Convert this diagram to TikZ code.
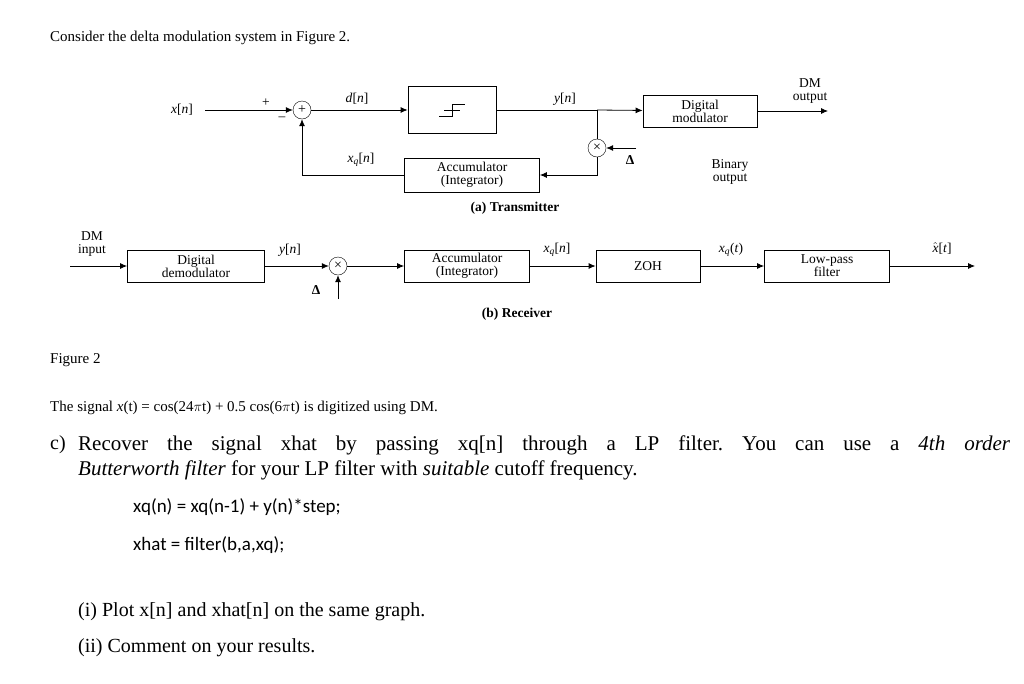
\documentclass[tikz,border=0pt]{standalone}
\usepackage{fontspec}
\setmainfont{Liberation Serif}
\newfontfamily\codefont{Carlito}
\usetikzlibrary{arrows.meta}
\begin{document}
\frenchspacing
\begin{tikzpicture}[x=1pt,y=-1pt,
  blk/.style={draw,thick,align=center,font=\fontsize{13.5}{13}\selectfont,inner sep=0pt},
  lbl/.style={font=\fontsize{13.5}{13}\selectfont,inner sep=0pt,align=center},
  cir/.style={draw,circle,minimum size=18pt,inner sep=0pt,font=\fontsize{14}{14}\selectfont},
  sig/.style={thick,-{Latex[length=7pt,width=6pt]}},
  ln/.style={thick},
  txt/.style={anchor=west,inner sep=0pt,font=\fontsize{15}{16}\selectfont}]
\useasboundingbox (0,0) rectangle (1024,683);
% header
\node[txt] at (50,38) {Consider the delta modulation system in Figure 2.};
% transmitter
\node[lbl] (x) at (182,110) {\textit{x}[\textit{n}]};
\coordinate (xs) at (205,110);
\node[cir] (sum) at (302,110) {+};
\node[lbl] at (266,103) {+};
\node[lbl] at (282,119) {–};
\node[blk,minimum width=88pt,minimum height=47pt] (q) at (452,110) {};
\draw[thick] (439,116) -- (452,116) -- (452,104) -- (465,104);
\draw[thick] (444,110) -- (460,110);
\node[lbl] at (357,99) {\textit{d}[\textit{n}]};
\node[lbl] at (565,99) {\textit{y}[\textit{n}]};
\coordinate (j) at (597,110);
\node[blk,minimum width=114pt,minimum height=32pt] (dm) at (700,111) {Digital\\modulator};
\node[lbl] at (810,91) {DM\\output};
\coordinate (dmo) at (828,111);
\node[cir] (mul) at (597,148) {×};
\coordinate (d1) at (636,148);
\node[lbl] at (630,160) {\bfseries Δ};
\node[blk,minimum width=135pt,minimum height=34pt] (acc) at (472,175) {Accumulator\\(Integrator)};
\node[lbl] at (730,172) {Binary\\output};
\node[lbl] at (361,160) {\textit{x}\textsubscript{\textit{q}}[\textit{n}]};
\node[lbl,font=\fontsize{13.5}{13}\selectfont\bfseries] at (515,208) {(a) Transmitter};
\draw[sig] (xs) -- (sum);
\draw[sig] (sum) -- (q);
\draw[ln] (q) -- (j);
\draw[sig] (j) -- (dm);
\draw[sig] (dm) -- (dmo);
\draw[ln] (j) -- (mul);
\draw[sig] (d1) -- (mul);
\draw[sig] (mul) |- (acc);
\draw[sig] (acc) -| (sum);
% receiver
\node[lbl] at (92,244) {DM\\input};
\coordinate (din) at (70,266);
\node[blk,minimum width=137pt,minimum height=32pt] (dd) at (196,266) {Digital\\demodulator};
\node[lbl] at (290,250) {\textit{y}[\textit{n}]};
\node[cir] (m2) at (338,266) {×};
\coordinate (d2) at (338,299);
\node[lbl] at (316,290) {\bfseries Δ};
\node[blk,minimum width=125pt,minimum height=32pt] (acc2) at (467,266) {Accumulator\\(Integrator)};
\node[lbl] at (557,250) {\textit{x}\textsubscript{\textit{q}}[\textit{n}]};
\node[blk,minimum width=104pt,minimum height=32pt] (zoh) at (648,266) {ZOH};
\node[lbl] at (731,250) {\textit{x}\textsubscript{\textit{q}}(\textit{t})};
\node[blk,minimum width=125pt,minimum height=32pt] (lpf) at (827,266) {Low-pass\\filter};
\node[lbl] at (942,248) {$\hat{\mbox{\textit{x}}}$[\textit{t}]};
\coordinate (out) at (975,266);
\draw[sig] (din) -- (dd);
\draw[sig] (dd) -- (m2);
\draw[sig] (d2) -- (m2);
\draw[sig] (m2) -- (acc2);
\draw[sig] (acc2) -- (zoh);
\draw[sig] (zoh) -- (lpf);
\draw[sig] (lpf) -- (out);
\node[lbl,font=\fontsize{13.5}{13}\selectfont\bfseries] at (517,314) {(b) Receiver};
% text
\node[txt] at (50,360) {Figure 2};
\node[txt] at (50,408) {The signal \textit{x}(t) = cos(24$\pi$t) + 0.5 cos(6$\pi$t) is digitized using DM.};
\node[txt,font=\fontsize{20}{23}\selectfont] at (50,445) {c)};
\node[anchor=north west,inner sep=0pt,text width=932pt,align=justify,font=\fontsize{21}{24.5}\selectfont] at (78,436) {Recover the signal xhat by passing xq[n] through a LP filter. You can use a \emph{4th order}\linebreak \emph{Butterworth filter} for your LP filter with \emph{suitable} cutoff frequency.};
\node[txt,font=\codefont\fontsize{19}{22}\selectfont] at (133,507) {xq(n) = xq(n-1) + y(n)*step;};
\node[txt,font=\codefont\fontsize{19}{22}\selectfont] at (133,545) {xhat = filter(b,a,xq);};
\node[txt,font=\fontsize{20}{22}\selectfont] at (78,612) {(i) Plot x[n] and xhat[n] on the same graph.};
\node[txt,font=\fontsize{20}{22}\selectfont] at (78,648) {(ii) Comment on your results.};
\end{tikzpicture}
\end{document}
